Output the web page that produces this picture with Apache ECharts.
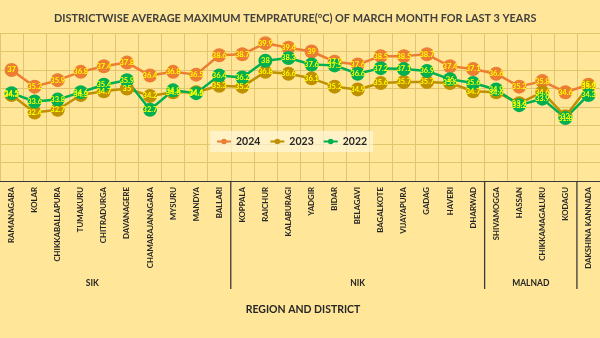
<!DOCTYPE html>
<html><head><meta charset="utf-8">
<script src="https://cdn.jsdelivr.net/npm/echarts@6/dist/echarts.min.js"></script>
<style>html,body{margin:0;padding:0;background:#FFE699;}#c{width:600px;height:338px;}</style>
</head><body><div id="c"></div>
<script>
const categories = ['RAMANAGARA','KOLAR','CHIKKABALLAPURA','TUMAKURU','CHITRADURGA','DAVANAGERE','CHAMARAJANAGARA','MYSURU','MANDYA','BALLARI','KOPPALA','RAICHUR','KALABURAGI','YADGIR','BIDAR','BELAGAVI','BAGALKOTE','VIJAYAPURA','GADAG','HAVERI','DHARWAD','SHIVAMOGGA','HASSAN','CHIKKAMAGALURU','KODAGU','DAKSHINA KANNADA'];
const y2024 = [37.0,35.2,35.9,36.8,37.4,37.8,36.4,36.8,36.5,38.6,38.7,39.9,39.4,39.0,37.9,37.6,38.5,38.5,38.7,37.4,37.1,36.6,35.2,35.8,34.6,35.4];
const y2023 = [34.3,32.4,32.7,34.3,34.7,35.0,34.2,34.6,34.6,35.3,35.2,36.8,36.6,36.1,35.2,34.9,35.6,35.7,35.7,35.6,34.7,34.6,33.4,34.6,32.0,35.2];
const y2022 = [34.5,33.6,33.8,34.6,35.4,35.9,32.7,34.8,34.5,36.4,36.2,38.0,38.3,37.6,37.5,36.6,37.2,37.1,36.9,36.0,35.6,34.9,33.2,33.9,31.8,34.3];
const seriesNames = ['2024','2023','2022'];
const seriesColors = ['#ED7D31','#BF9000','#00B050'];
// region groups (category index ranges; SIK starts with two districts cropped off the left edge)
const groupNames = ['SIK','NIK','MALNAD'];
const groupStart = [-2,10,21];
const groupEnd = [9,20,24];
const yMin = 25, yMax = 41, yStep = 2;

const FONT = 'Lato';
const chart = echarts.init(document.getElementById('c'));
const values = [y2024, y2023, y2022];
const option = {
  backgroundColor: '#FFE699',
  animation: false,
  textStyle: {fontFamily: FONT},
  title: {
    text: 'DISTRICTWISE AVERAGE MAXIMUM TEMPRATURE(°C) OF MARCH MONTH FOR LAST 3 YEARS',
    left: 49, top: 8,
    textStyle: {fontFamily: FONT, fontSize: 10.9, fontWeight: 'bold', color: '#404040'}
  },
  legend: {
    data: seriesNames, left: 210, top: 131, itemWidth: 14, itemHeight: 7, itemGap: 9,
    backgroundColor: 'rgba(255,250,228,0.6)', padding: [5,6],
    textStyle: {fontFamily: FONT, fontSize: 10.5, fontWeight: 'bold', color: '#262626'}
  },
  grid: {left: -7, right: -5, top: 33, bottom: 157, containLabel: false},
  xAxis: {
    type: 'category', data: categories, boundaryGap: true,
    axisLine: {lineStyle: {color: '#3a3a3a', width: 1.2}},
    axisTick: {show: false},
    splitLine: {show: true, lineStyle: {color: '#E2C66F', width: 1}},
    axisLabel: {rotate: 90, interval: 0, margin: 6, fontFamily: FONT, fontSize: 7.8, fontWeight: 'bold', color: '#262626'}
  },
  yAxis: {
    type: 'value', min: yMin, max: yMax, interval: yStep,
    axisLabel: {show: false}, axisLine: {show: false}, axisTick: {show: false},
    splitLine: {lineStyle: {color: '#E2C66F', width: 1}}
  },
  series: seriesNames.map((n, k) => ({
    name: n, type: 'line', data: values[k],
    symbol: 'circle', symbolSize: 14,
    itemStyle: {color: seriesColors[k]},
    lineStyle: {color: seriesColors[k], width: 2.5},
    label: {show: true, position: 'inside', color: '#FFFF00', fontSize: 7.5, fontWeight: 'bold', fontFamily: FONT}
  }))
};
chart.setOption(option);

// region dividers and names placed from the category axis
const p0 = chart.convertToPixel({xAxisIndex: 0}, categories[0]);
const p1 = chart.convertToPixel({xAxisIndex: 0}, categories[1]);
const step = p1 - p0;
const pos = i => p0 + i * step;
const axisY = chart.convertToPixel({yAxisIndex: 0}, yMin);
const els = [];
groupNames.forEach((g, k) => {
  const xr = pos(groupEnd[k]) + step / 2;
  const xl = pos(groupStart[k]) - step / 2;
  els.push({type: 'line', shape: {x1: xr, y1: axisY, x2: xr, y2: axisY + 108}, style: {stroke: '#3a3a3a', lineWidth: 1.3}});
  els.push({type: 'text', x: (xl + xr) / 2, y: axisY + 102, style: {text: g, fontFamily: FONT, fontSize: 8.5, fontWeight: 'bold', fill: '#262626', align: 'center', verticalAlign: 'middle'}});
});
els.push({type: 'text', x: 303, y: axisY + 129, style: {text: 'REGION AND DISTRICT', fontFamily: FONT, fontSize: 10.5, fontWeight: 'bold', fill: '#262626', align: 'center', verticalAlign: 'middle'}});
chart.setOption({graphic: els});
</script>
</body></html>
